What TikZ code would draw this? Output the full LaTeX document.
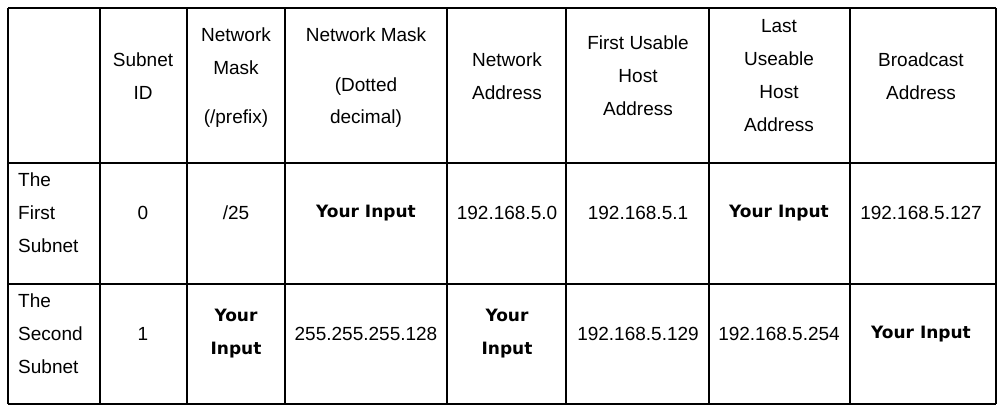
\documentclass[tikz,border=0pt]{standalone}
\usepackage{fontspec}
\setmainfont{Liberation Sans}
\newfontfamily\inputfont{DejaVu Sans}
\tikzset{
  cell/.style={align=center, font=\fontsize{19}{33}\selectfont, inner sep=0pt},
  rowhead/.style={align=left, anchor=west, font=\fontsize{19}{33}\selectfont, inner sep=0pt},
  yours/.style={align=center, font=\inputfont\bfseries\fontsize{17}{33}\selectfont, inner sep=0pt},
  grid/.style={line width=2pt}
}
\begin{document}
\begin{tikzpicture}[x=1pt, y=-1pt]
    \useasboundingbox (0,0) rectangle (1006,420);
    % table lines
    \foreach \xx in {8,100,187,285,447,566,709,850,996}
        \draw[grid] (\xx,8) -- (\xx,404);
    \foreach \yy in {8,163,284,404}
        \draw[grid] (8,\yy) -- (996,\yy);

    % header row
    \node[cell] (hid) at (143,76) {Subnet\\ID};
    \node[cell] (hmaska) at (236,35) {Network};
    \node[cell] (hmaskb) at (236,68) {Mask};
    \node[cell] (hmaskc) at (236,119) {(/prefix)};
    \node[cell] (hdota) at (366,35) {Network Mask};
    \node[cell] (hdotb) at (366,87) {(Dotted};
    \node[cell] (hdotc) at (366,119) {decimal)};
    \node[cell] (hnet) at (507,76) {Network\\Address};
    \node[cell] (hfirst) at (638,76) {First Usable\\Host\\Address};
    \node[cell] (hlast) at (779,76) {Last\\Useable\\Host\\Address};
    \node[cell] (hbc) at (921,76) {Broadcast\\Address};

    % first subnet
    \node[rowhead] (rfirst) at (18,213) {The\\First\\Subnet};
    \node[cell] (aid) at (143,213) {0};
    \node[cell] (apre) at (236,213) {/25};
    \node[yours] (adot) at (366,213) {Your Input};
    \node[cell] (anet) at (507,213) {192.168.5.0};
    \node[cell] (afirst) at (638,213) {192.168.5.1};
    \node[yours] (alast) at (779,213) {Your Input};
    \node[cell] (abc) at (921,213) {192.168.5.127};

    % second subnet
    \node[rowhead] (rsecond) at (18,334) {The\\Second\\Subnet};
    \node[cell] (bid) at (143,334) {1};
    \node[yours] (bpre) at (236,334) {Your\\Input};
    \node[cell] (bdot) at (366,334) {255.255.255.128};
    \node[yours] (bnet) at (507,334) {Your\\Input};
    \node[cell] (bfirst) at (638,334) {192.168.5.129};
    \node[cell] (blast) at (779,334) {192.168.5.254};
    \node[yours] (bbc) at (921,334) {Your Input};
\end{tikzpicture}
\end{document}
